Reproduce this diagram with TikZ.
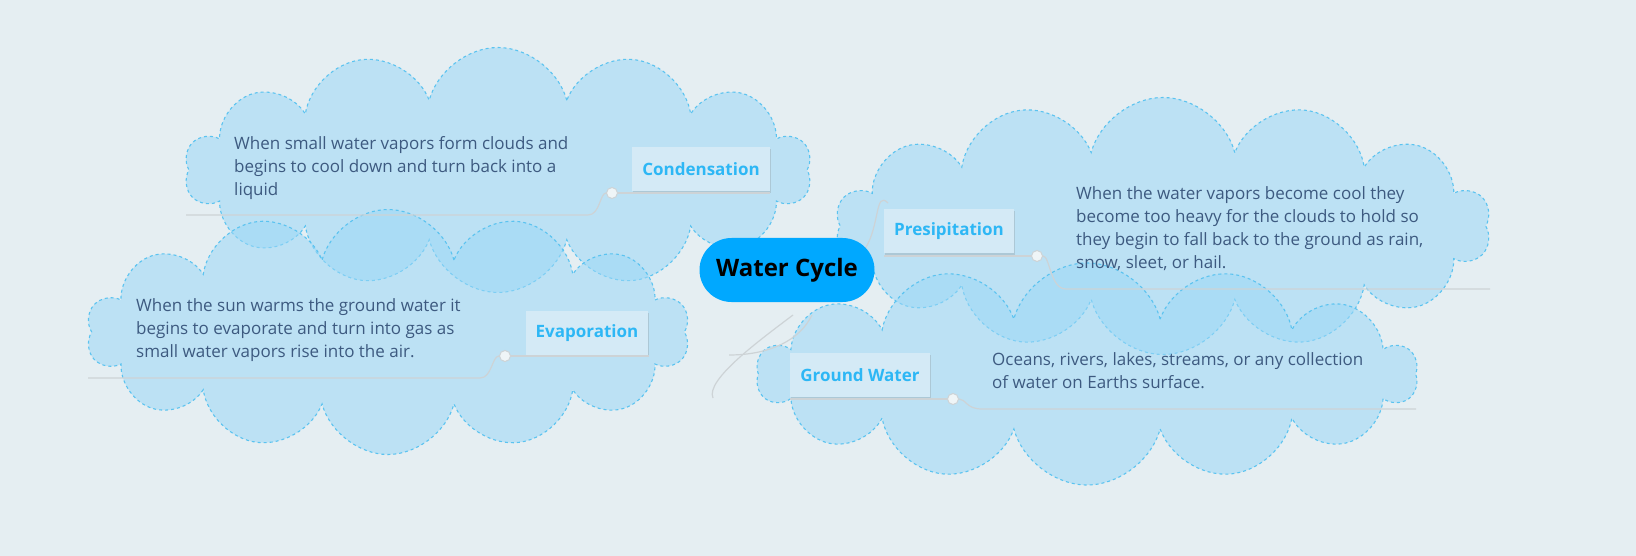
\documentclass[tikz,border=0pt]{standalone}
\usepackage{fontspec}
\setmainfont{Open Sans}
\usetikzlibrary{shapes.symbols,shadows}
\definecolor{bgcol}{HTML}{E5EEF2}
\definecolor{cloudfill}{HTML}{9CD8F7}
\definecolor{cloudline}{HTML}{5BC3F0}
\definecolor{topiccol}{HTML}{2DB7F5}
\definecolor{notecol}{HTML}{3D5A80}
\definecolor{linkcol}{HTML}{CDD3D6}
\definecolor{centrecol}{HTML}{00A8FF}
\tikzset{
  bubble/.style={cloud, cloud puffs=#1, cloud ignores aspect, draw=cloudline, dashed,
    fill=cloudfill, fill opacity=0.55, draw opacity=1, line width=1.1pt},
  topic/.style={fill=white!35!cloudfill!45!bgcol, text=topiccol, font=\fontsize{17}{20}\selectfont\bfseries,
    minimum height=44pt, inner xsep=10pt, drop shadow={shadow xshift=1pt, shadow yshift=-2pt, opacity=0.25}},
  note/.style={text=notecol, font=\fontsize{17}{23}\selectfont, align=left, anchor=north west, inner sep=0pt},
  link/.style={draw=linkcol, line width=1.2pt},
  knob/.style={circle, draw=linkcol, fill=bgcol!60!white, line width=1pt, inner sep=0pt, minimum size=11pt}
}
\begin{document}
\begin{tikzpicture}[x=1pt,y=-1pt]
  \fill[bgcol] (0,0) rectangle (1636,556);
  \useasboundingbox (0,0) rectangle (1636,556);

  % clouds
  \node[bubble=14, minimum width=627pt, minimum height=245pt] (condcloud) at (498,170) {};
  \node[bubble=14, minimum width=603pt, minimum height=245pt] (evapcloud) at (388,332) {};
  \node[bubble=14, minimum width=655pt, minimum height=257pt] (precloud) at (1163,226) {};
  \node[bubble=14, minimum width=660pt, minimum height=222pt] (groundcloud) at (1087,374) {};

  % connectors from the centre
  \coordinate (c1) at (888,203);
  \coordinate (c2) at (713,398);
  \coordinate (c3) at (729,355);
  \draw[link] (865,249) .. controls (880,225) and (875,190) .. (c1);
  \draw[link] (793,315) .. controls (760,340) and (705,380) .. (c2);
  \draw[link] (812,315) .. controls (800,340) and (770,355) .. (c3);

  % centre
  \node[fill=centrecol, rounded corners=32pt, minimum width=175pt, minimum height=64pt,
    font=\fontsize{24}{28}\selectfont\bfseries] (centre) at (787,270) {Water Cycle};

  % condensation
  \node[topic] (cond) at (701,169) {Condensation};
  \node[note] (condtext) at (234,136) {When small water vapors form clouds and\\begins to cool down and turn back into a\\liquid};
  \node[knob] (condknob) at (612,193) {};
  \draw[link] (186,215) -- (588,215) .. controls (600,215) and (600,193) .. (condknob);
  \draw[link] (condknob) -- (cond.south east |- condknob);

  % evaporation
  \node[topic] (evap) at (587,333) {Evaporation};
  \node[note] (evaptext) at (136,298) {When the sun warms the ground water it\\begins to evaporate and turn into gas as\\small water vapors rise into the air.};
  \node[knob] (evapknob) at (505,356) {};
  \draw[link] (88,378) -- (480,378) .. controls (492,378) and (492,356) .. (evapknob);
  \draw[link] (evapknob) -- (evap.south east |- evapknob);

  % presipitation
  \node[topic] (pres) at (949,231) {Presipitation};
  \node[note] (prestext) at (1076,186) {When the water vapors become cool they\\become too heavy for the clouds to hold so\\they begin to fall back to the ground as rain,\\snow, sleet, or hail.};
  \node[knob] (presknob) at (1037,256) {};
  \draw[link] (pres.south west |- presknob) -- (presknob);
  \draw[link] (presknob) .. controls (1050,256) and (1050,289) .. (1066,289) -- (1490,289);

  % ground water
  \node[topic] (ground) at (860,375) {Ground Water};
  \node[note] (groundtext) at (992,352) {Oceans, rivers, lakes, streams, or any collection\\of water on Earths surface.};
  \node[knob] (groundknob) at (953,399) {};
  \draw[link] (ground.south west |- groundknob) -- (groundknob);
  \draw[link] (groundknob) .. controls (966,399) and (966,409) .. (982,409) -- (1416,409);
\end{tikzpicture}
\end{document}
